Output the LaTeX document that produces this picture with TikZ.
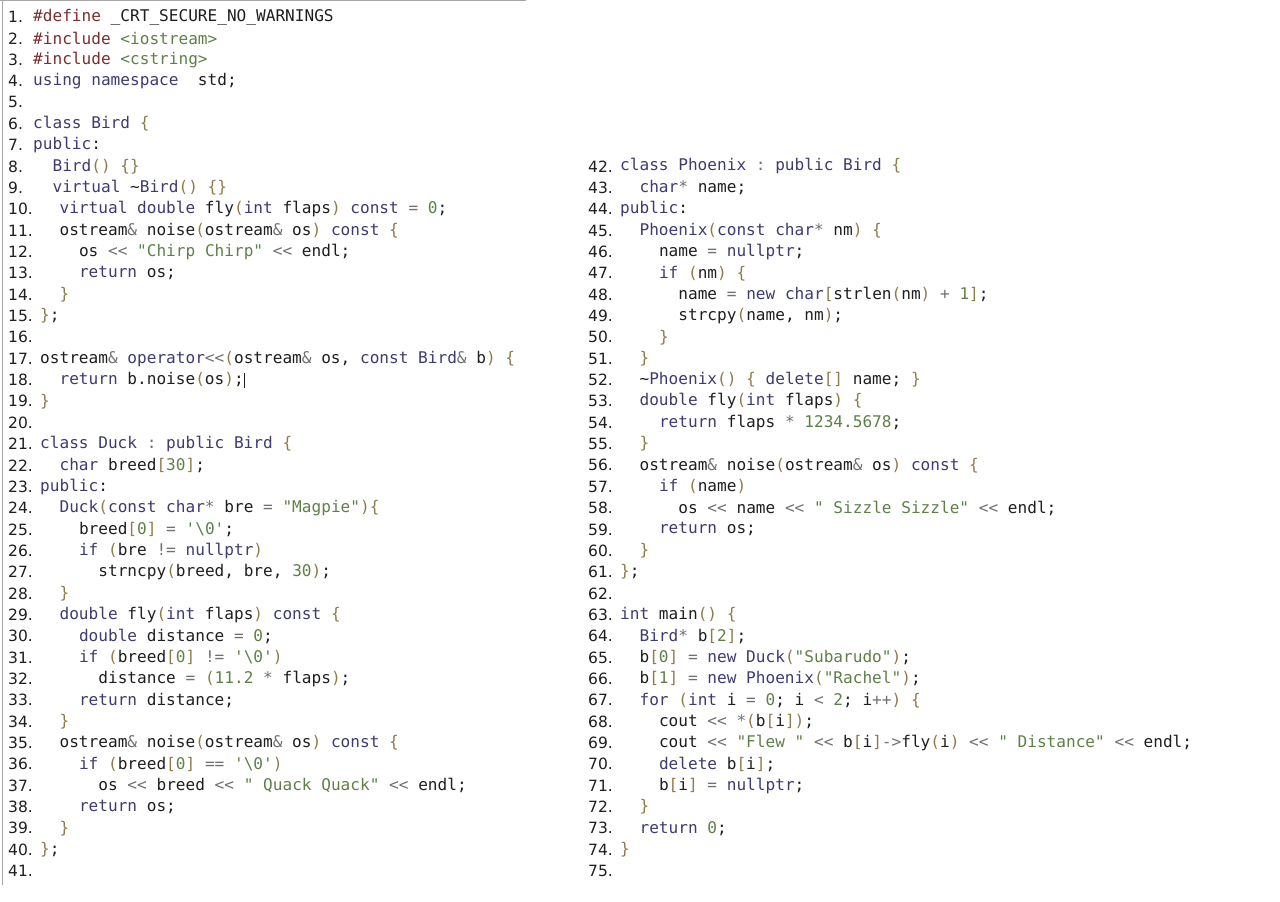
\documentclass[tikz,border=0pt]{standalone}
\usepackage{fontspec}
\setmonofont{DejaVu Sans Mono}
\newfontfamily\numfont{DejaVu Sans}
\definecolor{kwc}{HTML}{3E3A72}
\definecolor{stc}{HTML}{5E8046}
\definecolor{pnc}{HTML}{8C7C48}
\definecolor{ppc}{HTML}{7A2E2E}
\definecolor{opc}{HTML}{707070}
\definecolor{txc}{HTML}{1E1E1E}
\newcommand\K[1]{\textcolor{kwc}{#1}}
\newcommand\St[1]{\textcolor{stc}{#1}}
\newcommand\Pn[1]{\textcolor{pnc}{#1}}
\newcommand\D[1]{\textcolor{ppc}{#1}}
\newcommand\Op[1]{\textcolor{opc}{#1}}
\newcommand\tl{\textasciitilde}
\newcommand\bs{\textbackslash}
\tikzset{
  numsty/.style={anchor=west,inner sep=0pt,font=\numfont\fontsize{15.5}{18}\selectfont,text=txc},
  codesty/.style={anchor=west,inner sep=0pt,font=\ttfamily\fontsize{16.1}{19}\selectfont,text=txc},
}
\newcommand\NL[4]{\node[numsty] (n#1) at (#2,{17+(#3-1)*21.35}) {#4.};}
\newcommand\CL[8]{\node[numsty] (n#1) at (#2,{17+(#4-1)*21.35}) {#5.};
  \node[codesty] (c#1) at ({#3+#6*9.7},{17+(#4-1)*21.35}) {#7};}
\begin{document}
\begin{tikzpicture}[x=1pt,y=-1pt]
\useasboundingbox (0,0) rectangle (1280,902);
\draw[color=black!35,line width=1pt] (0,0.5) -- (526,0.5);
\draw[color=black!35,line width=1pt] (2,0) -- (2,885);
% left column
\CL{1}{8}{33}{1}{1}{0}{\D{\#define} \_CRT\_SECURE\_NO\_WARNINGS}{}
\CL{2}{8}{33}{2}{2}{0}{\D{\#include} \St{<iostream>}}{}
\CL{3}{8}{33}{3}{3}{0}{\D{\#include} \St{<cstring>}}{}
\CL{4}{8}{33}{4}{4}{0}{\K{using namespace}\ \ std;}{}
\NL{5}{8}{5}{5}
\CL{6}{8}{33}{6}{6}{0}{\K{class Bird} \Pn{\{}}{}
\CL{7}{8}{33}{7}{7}{0}{\K{public}:}{}
\CL{8}{8}{33}{8}{8}{2}{\K{Bird}\Pn{() \{\}}}{}
\CL{9}{8}{33}{9}{9}{2}{\K{virtual} \tl\K{Bird}\Pn{() \{\}}}{}
\CL{10}{8}{40}{10}{10}{2}{\K{virtual double} fly\Pn{(}\K{int} flaps\Pn{)} \K{const} \Op{=} \St{0};}{}
\CL{11}{8}{40}{11}{11}{2}{ostream\Op{\&} noise\Pn{(}ostream\Op{\&} os\Pn{)} \K{const} \Pn{\{}}{}
\CL{12}{8}{40}{12}{12}{4}{os \Op{<<} \St{"Chirp Chirp"} \Op{<<} endl;}{}
\CL{13}{8}{40}{13}{13}{4}{\K{return} os;}{}
\CL{14}{8}{40}{14}{14}{2}{\Pn{\}}}{}
\CL{15}{8}{40}{15}{15}{0}{\Pn{\}};}{}
\NL{16}{8}{16}{16}
\CL{17}{8}{40}{17}{17}{0}{ostream\Op{\&} \K{operator}\Op{<<}\Pn{(}ostream\Op{\&} os, \K{const Bird}\Op{\&} b\Pn{) \{}}{}
\CL{18}{8}{40}{18}{18}{2}{\K{return} b.noise\Pn{(}os\Pn{)};\rule[-3pt]{0.8pt}{15pt}}{}
\CL{19}{8}{40}{19}{19}{0}{\Pn{\}}}{}
\NL{20}{8}{20}{20}
\CL{21}{8}{40}{21}{21}{0}{\K{class Duck} \Op{:} \K{public Bird} \Pn{\{}}{}
\CL{22}{8}{40}{22}{22}{2}{\K{char} breed\Pn{[}\St{30}\Pn{]};}{}
\CL{23}{8}{40}{23}{23}{0}{\K{public}:}{}
\CL{24}{8}{40}{24}{24}{2}{\K{Duck}\Pn{(}\K{const char}\Op{*} bre \Op{=} \St{"Magpie"}\Pn{)\{}}{}
\CL{25}{8}{40}{25}{25}{4}{breed\Pn{[}\St{0}\Pn{]} \Op{=} \St{'\bs0'};}{}
\CL{26}{8}{40}{26}{26}{4}{\K{if} \Pn{(}bre \Op{!=} \K{nullptr}\Pn{)}}{}
\CL{27}{8}{40}{27}{27}{6}{strncpy\Pn{(}breed, bre, \St{30}\Pn{)};}{}
\CL{28}{8}{40}{28}{28}{2}{\Pn{\}}}{}
\CL{29}{8}{40}{29}{29}{2}{\K{double} fly\Pn{(}\K{int} flaps\Pn{)} \K{const} \Pn{\{}}{}
\CL{30}{8}{40}{30}{30}{4}{\K{double} distance \Op{=} \St{0};}{}
\CL{31}{8}{40}{31}{31}{4}{\K{if} \Pn{(}breed\Pn{[}\St{0}\Pn{]} \Op{!=} \St{'\bs0'}\Pn{)}}{}
\CL{32}{8}{40}{32}{32}{6}{distance \Op{=} \Pn{(}\St{11.2} \Op{*} flaps\Pn{)};}{}
\CL{33}{8}{40}{33}{33}{4}{\K{return} distance;}{}
\CL{34}{8}{40}{34}{34}{2}{\Pn{\}}}{}
\CL{35}{8}{40}{35}{35}{2}{ostream\Op{\&} noise\Pn{(}ostream\Op{\&} os\Pn{)} \K{const} \Pn{\{}}{}
\CL{36}{8}{40}{36}{36}{4}{\K{if} \Pn{(}breed\Pn{[}\St{0}\Pn{]} \Op{==} \St{'\bs0'}\Pn{)}}{}
\CL{37}{8}{40}{37}{37}{6}{os \Op{<<} breed \Op{<<} \St{" Quack Quack"} \Op{<<} endl;}{}
\CL{38}{8}{40}{38}{38}{4}{\K{return} os;}{}
\CL{39}{8}{40}{39}{39}{2}{\Pn{\}}}{}
\CL{40}{8}{40}{40}{40}{0}{\Pn{\}};}{}
\NL{41}{8}{41}{41}
% right column
\CL{42}{588}{620}{8}{42}{0}{\K{class Phoenix} \Op{:} \K{public Bird} \Pn{\{}}{}
\CL{43}{588}{620}{9}{43}{2}{\K{char}\Op{*} name;}{}
\CL{44}{588}{620}{10}{44}{0}{\K{public}:}{}
\CL{45}{588}{620}{11}{45}{2}{\K{Phoenix}\Pn{(}\K{const char}\Op{*} nm\Pn{) \{}}{}
\CL{46}{588}{620}{12}{46}{4}{name \Op{=} \K{nullptr};}{}
\CL{47}{588}{620}{13}{47}{4}{\K{if} \Pn{(}nm\Pn{) \{}}{}
\CL{48}{588}{620}{14}{48}{6}{name \Op{=} \K{new char}\Pn{[}strlen\Pn{(}nm\Pn{)} \Op{+} \St{1}\Pn{]};}{}
\CL{49}{588}{620}{15}{49}{6}{strcpy\Pn{(}name, nm\Pn{)};}{}
\CL{50}{588}{620}{16}{50}{4}{\Pn{\}}}{}
\CL{51}{588}{620}{17}{51}{2}{\Pn{\}}}{}
\CL{52}{588}{620}{18}{52}{2}{\tl\K{Phoenix}\Pn{() \{} \K{delete}\Pn{[]} name; \Pn{\}}}{}
\CL{53}{588}{620}{19}{53}{2}{\K{double} fly\Pn{(}\K{int} flaps\Pn{) \{}}{}
\CL{54}{588}{620}{20}{54}{4}{\K{return} flaps \Op{*} \St{1234.5678};}{}
\CL{55}{588}{620}{21}{55}{2}{\Pn{\}}}{}
\CL{56}{588}{620}{22}{56}{2}{ostream\Op{\&} noise\Pn{(}ostream\Op{\&} os\Pn{)} \K{const} \Pn{\{}}{}
\CL{57}{588}{620}{23}{57}{4}{\K{if} \Pn{(}name\Pn{)}}{}
\CL{58}{588}{620}{24}{58}{6}{os \Op{<<} name \Op{<<} \St{" Sizzle Sizzle"} \Op{<<} endl;}{}
\CL{59}{588}{620}{25}{59}{4}{\K{return} os;}{}
\CL{60}{588}{620}{26}{60}{2}{\Pn{\}}}{}
\CL{61}{588}{620}{27}{61}{0}{\Pn{\}};}{}
\NL{62}{588}{28}{62}
\CL{63}{588}{620}{29}{63}{0}{\K{int} main\Pn{() \{}}{}
\CL{64}{588}{620}{30}{64}{2}{\K{Bird}\Op{*} b\Pn{[}\St{2}\Pn{]};}{}
\CL{65}{588}{620}{31}{65}{2}{b\Pn{[}\St{0}\Pn{]} \Op{=} \K{new Duck}\Pn{(}\St{"Subarudo"}\Pn{)};}{}
\CL{66}{588}{620}{32}{66}{2}{b\Pn{[}\St{1}\Pn{]} \Op{=} \K{new Phoenix}\Pn{(}\St{"Rachel"}\Pn{)};}{}
\CL{67}{588}{620}{33}{67}{2}{\K{for} \Pn{(}\K{int} i \Op{=} \St{0}; i \Op{<} \St{2}; i\Op{++}\Pn{) \{}}{}
\CL{68}{588}{620}{34}{68}{4}{cout \Op{<<} \Op{*}\Pn{(}b\Pn{[}i\Pn{])};}{}
\CL{69}{588}{620}{35}{69}{4}{cout \Op{<<} \St{"Flew "} \Op{<<} b\Pn{[}i\Pn{]}\Op{->}fly\Pn{(}i\Pn{)} \Op{<<} \St{" Distance"} \Op{<<} endl;}{}
\CL{70}{588}{620}{36}{70}{4}{\K{delete} b\Pn{[}i\Pn{]};}{}
\CL{71}{588}{620}{37}{71}{4}{b\Pn{[}i\Pn{]} \Op{=} \K{nullptr};}{}
\CL{72}{588}{620}{38}{72}{2}{\Pn{\}}}{}
\CL{73}{588}{620}{39}{73}{2}{\K{return} \St{0};}{}
\CL{74}{588}{620}{40}{74}{0}{\Pn{\}}}{}
\NL{75}{588}{41}{75}
\end{tikzpicture}
\end{document}
